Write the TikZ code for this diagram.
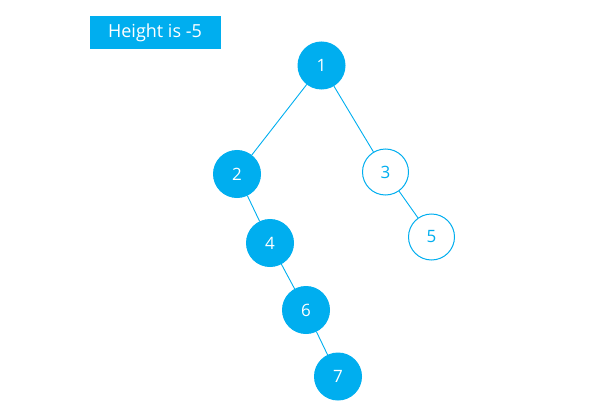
\documentclass[tikz,border=0pt]{standalone}
\usepackage{fontspec}
\setmainfont{Open Sans}
\definecolor{tb}{HTML}{00AEEF}
\begin{document}
\begin{tikzpicture}[x=1pt,y=-1pt,
  filled/.style={circle,fill=tb,draw=tb,line width=1pt,minimum size=47pt,inner sep=0pt,text=white,font=\fontsize{17}{19}\selectfont},
  hollow/.style={circle,fill=white,draw=tb,line width=1pt,minimum size=46pt,inner sep=0pt,text=tb,font=\fontsize{17}{19}\selectfont},
  edge/.style={draw=tb,line width=0.9pt}]
\useasboundingbox (0,0) rectangle (596,417);
\node[fill=tb,text=white,minimum width=131pt,minimum height=33pt,inner sep=0pt,font=\fontsize{18}{21}\selectfont] (lbl) at (155,32.5) {Height is -5};
\node[filled] (n1) at (321.5,65.5) {1};
\node[filled] (n2) at (237,174) {2};
\node[hollow] (n3) at (385.5,172) {3};
\node[filled] (n4) at (270,243) {4};
\node[hollow] (n5) at (431.5,237) {5};
\node[filled] (n6) at (306,310) {6};
\node[filled] (n7) at (338,376.5) {7};
\draw[edge] (n1) -- (n2);
\draw[edge] (n1) -- (n3);
\draw[edge] (n2) -- (n4);
\draw[edge] (n3) -- (n5);
\draw[edge] (n4) -- (n6);
\draw[edge] (n6) -- (n7);
\end{tikzpicture}
\end{document}
